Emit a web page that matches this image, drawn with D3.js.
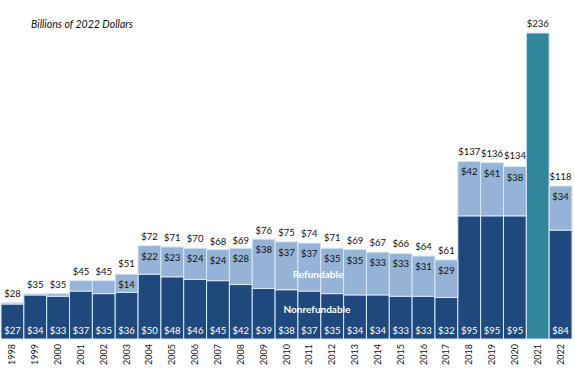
<!DOCTYPE html>
<html>
<head>
<meta charset="utf-8">
<script src="https://cdn.jsdelivr.net/npm/d3@7/dist/d3.min.js"></script>
<style>
  body { margin: 0; background: #fff; }
  text { font-family: Lato, "DejaVu Sans", sans-serif; }
</style>
</head>
<body>
<div id="chart"></div>
<script>
// data (billions of 2022 dollars)
const years = ["1998","1999","2000","2001","2002","2003","2004","2005","2006","2007","2008","2009","2010",
  "2011","2012","2013","2014","2015","2016","2017","2018","2019","2020","2021","2022"];
const nonrefundable = [27,34,33,37,35,36,50,48,46,45,42,39,38,37,35,34,34,33,33,32,95,95,95,236,84];
const refundable    = [1,1,2,8,10,14,22,23,24,24,28,38,37,37,35,35,33,33,31,29,42,41,38,0,34];
const totals        = [28,35,35,45,45,51,72,71,70,68,69,76,75,74,71,69,67,66,64,61,137,136,134,236,118];
// refundable label only shown from 2003 on
const showRefLabel  = years.map(y => +y >= 2003 && y !== "2021");

var width = 575, height = 371;
var base = 339;

var svg = d3.select("#chart").append("svg")
  .attr("width", width)
  .attr("height", height);

var x = d3.scaleBand()
  .domain(years)
  .range([1, 572])
  .padding(0);

var y = d3.scaleLinear()
  .domain([0, 236])
  .range([base, 33]);

var rows = years.map((yr, i) => ({year: yr, non: nonrefundable[i], ref: refundable[i], total: totals[i], showRef: showRefLabel[i]}));

// nonrefundable part (2021 is drawn as a single teal bar)
svg.selectAll(".non")
  .data(rows)
  .enter()
  .append("rect")
  .attr("x", d => x(d.year))
  .attr("width", x.bandwidth())
  .attr("y", d => y(d.non))
  .attr("height", d => base - y(d.non))
  .attr("fill", d => d.year === "2021" ? "#31869b" : "#1f497d")
  .attr("stroke", "#dce6f2")
  .attr("stroke-width", 1);

// refundable part stacked on top
svg.selectAll(".ref")
  .data(rows.filter(d => d.ref > 0))
  .enter()
  .append("rect")
  .attr("x", d => x(d.year))
  .attr("width", x.bandwidth())
  .attr("y", d => y(d.non + d.ref))
  .attr("height", d => y(d.non) - y(d.non + d.ref))
  .attr("fill", "#95b3d7")
  .attr("stroke", "#dce6f2")
  .attr("stroke-width", 1);

// total labels
svg.selectAll(".total")
  .data(rows)
  .enter()
  .append("text")
  .attr("x", d => x(d.year) + x.bandwidth() / 2)
  .attr("y", d => y(d.total) - 6)
  .attr("text-anchor", "middle")
  .attr("font-size", 9.5)
  .attr("fill", "#111")
  .text(d => "$" + d.total);

// refundable labels
svg.selectAll(".reflab")
  .data(rows.filter(d => d.showRef))
  .enter()
  .append("text")
  .attr("x", d => x(d.year) + x.bandwidth() / 2)
  .attr("y", d => y(d.non + d.ref) + 14)
  .attr("text-anchor", "middle")
  .attr("font-size", 9.5)
  .attr("fill", "#111")
  .text(d => "$" + d.ref);

// nonrefundable labels
svg.selectAll(".nonlab")
  .data(rows.filter(d => d.year !== "2021"))
  .enter()
  .append("text")
  .attr("x", d => x(d.year) + x.bandwidth() / 2)
  .attr("y", base - 5)
  .attr("text-anchor", "middle")
  .attr("font-size", 9.5)
  .attr("fill", "#fff")
  .text(d => "$" + d.non);

// year labels, rotated
svg.selectAll(".yr")
  .data(years)
  .enter()
  .append("text")
  .attr("transform", d => "translate(" + (x(d) + x.bandwidth() / 2 + 3) + "," + (base + 5) + ") rotate(-90)")
  .attr("text-anchor", "end")
  .attr("font-size", 9)
  .attr("fill", "#111")
  .text(d => d);

// series names inside the bars
svg.append("text")
  .attr("x", 318).attr("y", 278)
  .attr("text-anchor", "middle")
  .attr("font-size", 10).attr("font-weight", "bold")
  .attr("fill", "#fff")
  .text("Refundable");

svg.append("text")
  .attr("x", 317).attr("y", 313)
  .attr("text-anchor", "middle")
  .attr("font-size", 10).attr("font-weight", "bold")
  .attr("fill", "#fff")
  .text("Nonrefundable");

svg.append("text")
  .attr("x", 31).attr("y", 28)
  .attr("font-size", 10.5).attr("font-style", "italic")
  .attr("fill", "#111")
  .text("Billions of 2022 Dollars");
</script>
</body>
</html>
